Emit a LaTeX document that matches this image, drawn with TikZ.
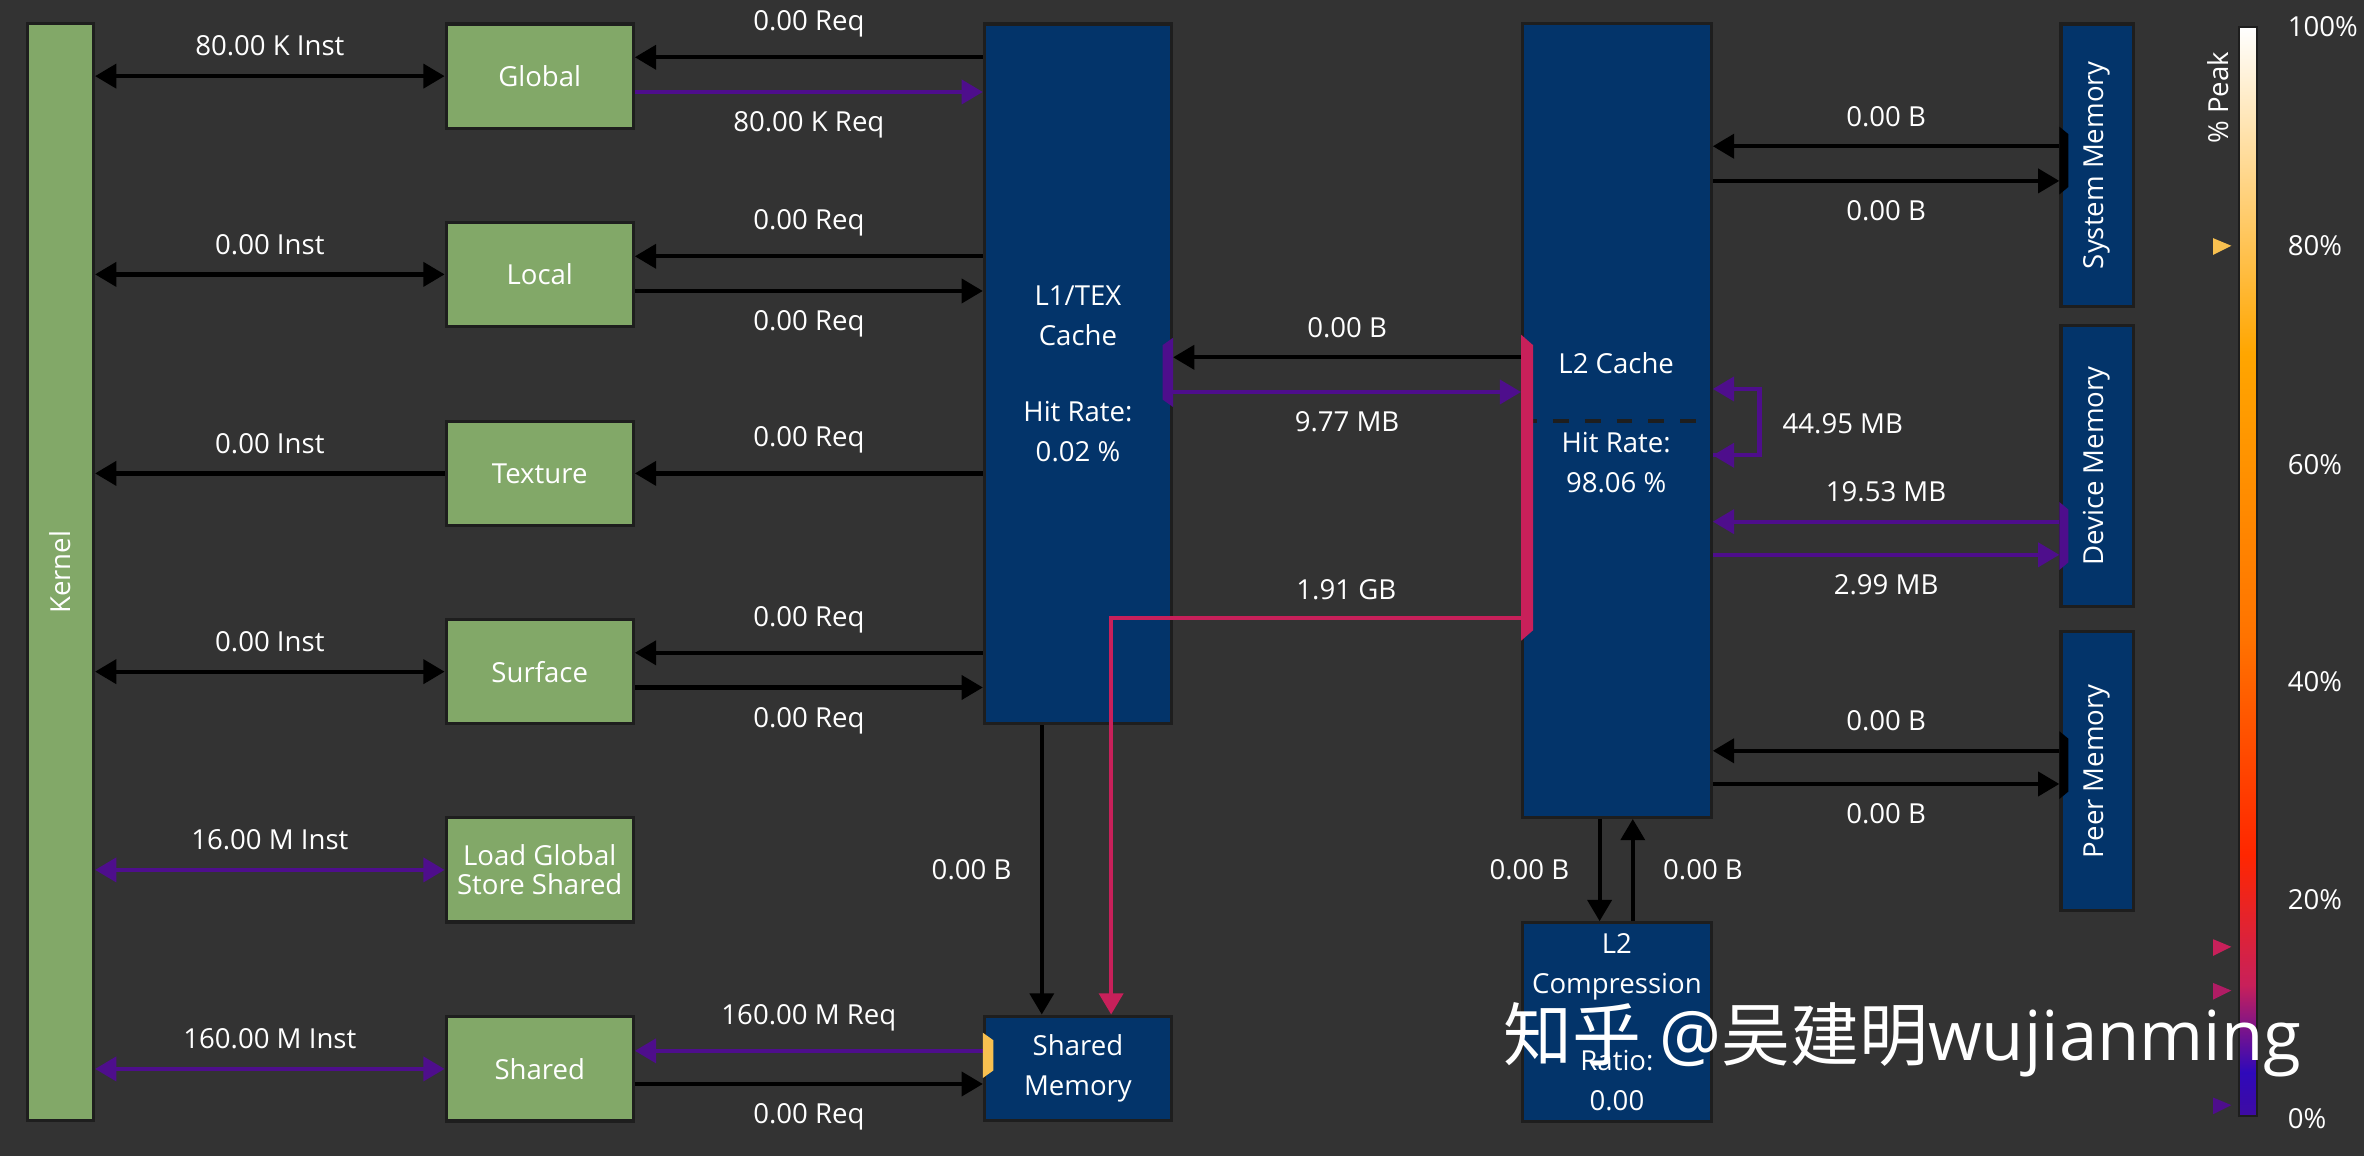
\documentclass[tikz,border=0pt]{standalone}
\usepackage{fontspec}
\setmainfont{Open Sans}
\newfontfamily\cjk{Noto Sans CJK SC}
\usetikzlibrary{arrows.meta}
\definecolor{bgc}{HTML}{333333}
\definecolor{unitc}{HTML}{03346A}
\definecolor{edgec}{HTML}{1E1E1E}
\definecolor{greenc}{HTML}{82A868}
\definecolor{purc}{HTML}{4E0E8C}
\definecolor{pinkc}{HTML}{C8205A}
\definecolor{yelc}{HTML}{F8C050}
\pgfdeclareverticalshading{peak}{100bp}{color(0bp)=(purc!80!blue); color(25bp)=(purc!80!blue); color(27bp)=(purc!60!blue); color(31bp)=(pinkc); color(37bp)=(red!70!orange); color(47bp)=(orange!90!red); color(60bp)=(orange!70!yellow); color(75bp)=(white); color(100bp)=(white)}
\tikzset{
  blk/.style={draw=edgec, line width=0.6pt, fill=unitc, text=white, align=center, inner sep=0pt},
  grn/.style={draw=edgec, line width=0.6pt, fill=greenc, text=white, align=center, inner sep=0pt, minimum width=1.24cm, minimum height=0.69cm},
  lbl/.style={text=white, font=\fontsize{5.2}{6.5}\selectfont},
  ar/.style={line width=0.8pt, -{Triangle[length=4pt,width=4.5pt]}},
  dar/.style={line width=0.8pt, {Triangle[length=4pt,width=4.5pt]}-{Triangle[length=4pt,width=4.5pt]}},
}
\begin{document}
\begin{tikzpicture}[x=0.01cm, y=-0.01cm, font=\fontsize{5.2}{6.5}\selectfont]
\fill[bgc] (0,0) rectangle (1568,767);
\useasboundingbox (0,0) rectangle (1568,767);
% units
\node[grn, minimum width=0.44cm, minimum height=7.27cm] (kern) at (40,379.5) {\rotatebox{90}{Kernel}};
\node[grn] (glob) at (358,50.5) {Global};
\node[grn] (loc) at (358,182) {Local};
\node[grn] (tex) at (358,314) {Texture};
\node[grn] (surf) at (358,445.5) {Surface};
\node[grn] (ldst) at (358,577) {Load Global\\[-1pt]Store Shared};
\node[grn] (shr) at (358,709) {Shared};
\node[blk, minimum width=1.24cm, minimum height=4.64cm] (l1) at (715,248) {L1/TEX\\[1pt]Cache\\[8pt]Hit Rate:\\[1pt]0.02 \%};
\node[blk, minimum width=1.24cm, minimum height=0.69cm] (smem) at (715,708.5) {Shared\\[1pt]Memory};
\node[blk, minimum width=1.25cm, minimum height=5.26cm] (l2) at (1072.5,279) {};
\node[lbl] at (1072,241) {L2 Cache};
\node[lbl, align=center] at (1072,307) {Hit Rate:\\[1pt]98.06 \%};
\draw[edgec, dashed, line width=0.8pt] (l2.west |- 0,279) -- (l2.east |- 0,279);
\node[blk, minimum width=1.25cm, minimum height=1.32cm, anchor=north] (l2c) at (1072.5,611) {L2\\[1pt]Compression\\[8pt]Ratio:\\[1pt]0.00};
\node[blk, minimum width=0.48cm, minimum height=1.87cm] (sysm) at (1391,109.5) {\rotatebox{90}{System Memory}};
\node[blk, minimum width=0.48cm, minimum height=1.86cm] (devm) at (1391,309) {\rotatebox{90}{Device Memory}};
\node[blk, minimum width=0.48cm, minimum height=1.85cm] (peer) at (1391,511.5) {\rotatebox{90}{Peer Memory}};
% kernel side
\draw[dar] (kern.east |- glob) -- (glob.west) node[lbl, midway, above=0pt] {80.00 K Inst};
\draw[dar] (kern.east |- loc) -- (loc.west) node[lbl, midway, above=0pt] {0.00 Inst};
\draw[ar] (tex.west) -- (kern.east |- tex) node[lbl, midway, above=0pt] {0.00 Inst};
\draw[dar] (kern.east |- surf) -- (surf.west) node[lbl, midway, above=0pt] {0.00 Inst};
\draw[dar, purc] (kern.east |- ldst) -- (ldst.west) node[lbl, midway, above=0pt] {16.00 M Inst};
\draw[dar, purc] (kern.east |- shr) -- (shr.west) node[lbl, midway, above=0pt] {160.00 M Inst};
% L1 side
\draw[ar] (l1.west |- 0,38) -- (glob.east |- 0,38) node[lbl, midway, above=0pt] {0.00 Req};
\draw[ar, purc] (glob.east |- 0,61) -- (l1.west |- 0,61) node[lbl, midway, below=0pt] {80.00 K Req};
\draw[ar] (l1.west |- 0,170) -- (loc.east |- 0,170) node[lbl, midway, above=0pt] {0.00 Req};
\draw[ar] (loc.east |- 0,193) -- (l1.west |- 0,193) node[lbl, midway, below=0pt] {0.00 Req};
\draw[ar] (l1.west |- tex) -- (tex.east) node[lbl, midway, above=0pt] {0.00 Req};
\draw[ar] (l1.west |- 0,433) -- (surf.east |- 0,433) node[lbl, midway, above=0pt] {0.00 Req};
\draw[ar] (surf.east |- 0,456) -- (l1.west |- 0,456) node[lbl, midway, below=0pt] {0.00 Req};
\draw[ar, purc] (smem.west |- 0,697) -- (shr.east |- 0,697) node[lbl, midway, above=0pt] {160.00 M Req};
\draw[ar] (shr.east |- 0,719) -- (smem.west |- 0,719) node[lbl, midway, below=0pt] {0.00 Req};
\fill[yelc] (smem.west |- 0,685) -- ++(7,5) -- ++(0,20) -- ++(-7,5) -- cycle;
\draw[ar] (l1.south -| 691,0) -- (smem.north -| 691,0) node[lbl, midway, left=2pt] {0.00 B};
% L1 / L2
\draw[ar] (l2.west |- 0,237) -- (l1.east |- 0,237) node[lbl, midway, above=0pt] {0.00 B};
\draw[ar, purc] (l1.east |- 0,260) -- (l2.west |- 0,260) node[lbl, midway, below=0pt] {9.77 MB};
\fill[purc] (l1.east |- 0,224) -- ++(-7,5) -- ++(0,36) -- ++(7,5) -- cycle;
\draw[ar, pinkc] (l2.west |- 0,410) -| (smem.north -| 737,0);
\node[lbl] at (893,391) {1.91 GB};
\fill[pinkc] (l2.west |- 0,222) -- ++(8,7) -- ++(0,189) -- ++(-8,7) -- cycle;
\draw[ar, purc] (l2.east |- 0,302) -- ++(31,0) |- (l2.east |- 0,258);
\draw[ar, purc] (l2.east |- 0,258) ++(31,0) |- (l2.east |- 0,302);
\node[lbl, anchor=west] at (1170,281) {44.95 MB};
% memories
\draw[ar] (sysm.west |- 0,97) -- (l2.east |- 0,97) node[lbl, midway, above=0pt] {0.00 B};
\draw[ar] (l2.east |- 0,120) -- (sysm.west |- 0,120) node[lbl, midway, below=0pt] {0.00 B};
\fill[black] (sysm.west |- 0,84) -- ++(6,5) -- ++(0,35) -- ++(-6,5) -- cycle;
\draw[ar, purc] (devm.west |- 0,346) -- (l2.east |- 0,346) node[lbl, midway, above=0pt] {19.53 MB};
\draw[ar, purc] (l2.east |- 0,368) -- (devm.west |- 0,368) node[lbl, midway, below=0pt] {2.99 MB};
\fill[purc] (devm.west |- 0,333) -- ++(6,5) -- ++(0,35) -- ++(-6,5) -- cycle;
\draw[ar] (peer.west |- 0,498) -- (l2.east |- 0,498) node[lbl, midway, above=0pt] {0.00 B};
\draw[ar] (l2.east |- 0,520) -- (peer.west |- 0,520) node[lbl, midway, below=0pt] {0.00 B};
\fill[black] (peer.west |- 0,485) -- ++(6,5) -- ++(0,35) -- ++(-6,5) -- cycle;
\draw[ar] (l2.south -| 1061,0) -- (l2c.north -| 1061,0) node[lbl, midway, left=2pt] {0.00 B};
\draw[ar] (l2c.north -| 1083,0) -- (l2.south -| 1083,0) node[lbl, midway, right=2pt] {0.00 B};
% color bar
\shade[shading=peak, draw=edgec] (1485,740) rectangle (1497,18);
\foreach \p/\y in {100/18, 80/163, 60/308, 40/452, 20/597, 0/742}
  \node[lbl, anchor=west] at (1505,\y) {\p\%};
\node[lbl, rotate=90, anchor=east] at (1471,22) {\% Peak};
\fill[yelc] (1468,158) -- (1480,163) -- (1468,169) -- cycle;
\fill[pinkc] (1468,623) -- (1480,628) -- (1468,634) -- cycle;
\fill[pinkc!80!purc] (1468,652) -- (1480,657) -- (1468,663) -- cycle;
\fill[purc] (1468,728) -- (1480,733) -- (1468,739) -- cycle;
\node[text=white, anchor=west, font=\fontsize{13}{15}\selectfont] at (985,690) {{\cjk 知乎} @{\cjk 吴建明}wujianming};
\end{tikzpicture}
\end{document}
